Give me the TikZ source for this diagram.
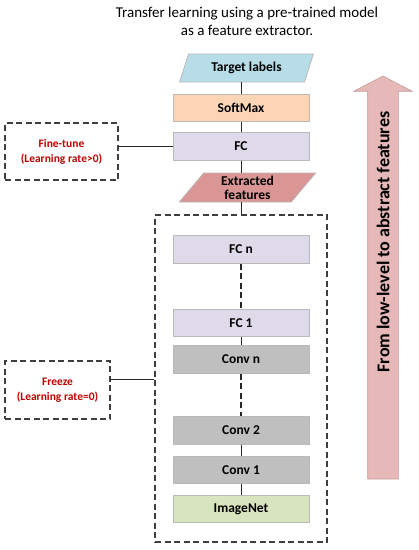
\documentclass[tikz,border=0pt]{standalone}
\usepackage{fontspec}
\setmainfont{Carlito}
\usetikzlibrary{shapes.geometric,shapes.arrows}

\definecolor{targetblue}{HTML}{B7DEE8}
\definecolor{softpeach}{HTML}{FCD5B5}
\definecolor{fclilac}{HTML}{DEDAE9}
\definecolor{featred}{HTML}{D99694}
\definecolor{convgray}{HTML}{BFBFBF}
\definecolor{netgreen}{HTML}{D7E4BD}
\definecolor{arrowpink}{HTML}{E6B9B8}
\definecolor{notered}{HTML}{C00000}
\definecolor{framegray}{HTML}{3F3F3F}

\begin{document}
\begin{tikzpicture}[x=1pt,y=-1pt]
\tikzset{
layer box/.style={rectangle,draw=gray!55,line width=0.8pt,minimum width=136,minimum height=27.5,inner sep=0,font=\fontsize{13.5}{15}\selectfont\bfseries},
data node/.style={trapezium,trapezium stretches=true,draw=gray!55,line width=0.8pt,inner sep=0,align=center,font=\fontsize{13.5}{14}\selectfont\bfseries},
note box/.style={rectangle,draw=framegray,dashed,dash pattern=on 6pt off 3.5pt,line width=1.1pt,align=center,text=notered,font=\fontsize{11.5}{15}\selectfont\bfseries},
link/.style={draw=black!85,line width=0.9pt},
skip link/.style={link,dash pattern=on 6pt off 3.5pt,line width=1.3pt}
}
\useasboundingbox (0,0) rectangle (419,550);

% title
\node[align=center,font=\fontsize{15}{18}\selectfont] (title) at (247,21) {Transfer learning using a pre-trained model\\as a feature extractor.};

% trainable part
\node[data node,fill=targetblue,trapezium left angle=65,trapezium right angle=115,minimum width=135,minimum height=28] (target) at (246.5,68) {Target labels};
\node[layer box,fill=softpeach] (softmax) at (241,108) {SoftMax};
\node[layer box,fill=fclilac] (fc) at (241,146.5) {FC};
\node[data node,fill=featred,trapezium left angle=58,trapezium right angle=122,minimum width=137,minimum height=29] (extracted) at (247.5,187.5) {Extracted\\features};

% frozen part
\node[note box,minimum width=172,minimum height=327] (frozen) at (241,378.5) {};
\node[layer box,fill=fclilac] (fcn) at (241,249.5) {FC n};
\node[layer box,fill=fclilac] (fcone) at (241,323) {FC 1};
\node[layer box,fill=convgray] (convn) at (241,359.5) {Conv n};
\node[layer box,fill=convgray] (convtwo) at (241,430.5) {Conv 2};
\node[layer box,fill=convgray] (convone) at (241,470) {Conv 1};
\node[layer box,fill=netgreen] (imagenet) at (241,509) {ImageNet};

\draw[link] (softmax.north) -- (softmax.north |- target.south);
\draw[link] (fc.north) -- (softmax.south);
\draw[link] (fc.south) -- (fc.south |- extracted.north);
\draw[link] (frozen.north) -- (frozen.north |- extracted.south);
\draw[skip link] (fcn.south) -- (fcone.north);
\draw[link] (fcone.south) -- (convn.north);
\draw[skip link] (convn.south) -- (convtwo.north);
\draw[link] (convtwo.south) -- (convone.north);
\draw[link] (convone.south) -- (imagenet.north);

% notes on the left
\node[note box,minimum width=113,minimum height=57] (finetune) at (61.5,151.5) {Fine-tune\\(Learning rate>0)};
\node[note box,minimum width=105,minimum height=58] (freeze) at (57.5,390) {Freeze\\(Learning rate=0)};
\coordinate (freezelink) at (110,379);
\draw[link] (fc.west) -- (fc.west -| finetune.east);
\draw[link] (freezelink) -- (freezelink -| frozen.west);

% direction of the features
\node[single arrow,draw=arrowpink!85!black,fill=arrowpink,line width=0.6pt,rotate=90,minimum height=403,minimum width=58,single arrow head extend=14,single arrow tip angle=125,inner xsep=0,inner ysep=15pt] (levels) at (383,281.5) {};
\node[rotate=90,font=\fontsize{18}{20}\selectfont\bfseries] (levelstext) at (383,242) {From low-level to abstract features};
\end{tikzpicture}
\end{document}
